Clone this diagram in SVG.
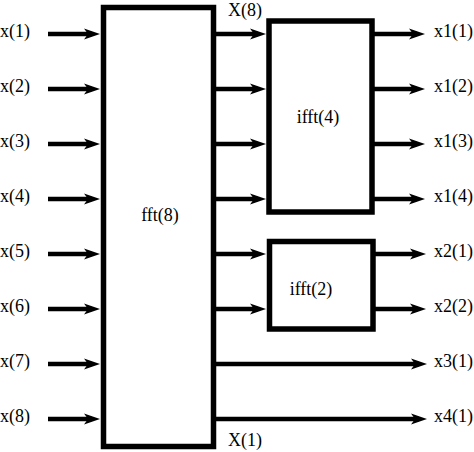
<svg xmlns="http://www.w3.org/2000/svg" width="474" height="452" viewBox="0 0 474 452">
<style>
.box{fill:#fff;stroke:#000;stroke-width:5.5}
.ln{stroke:#000;stroke-width:4.5;fill:none;marker-end:url(#ah)}
text{font-family:"Liberation Serif","DejaVu Serif",serif;font-size:18px;fill:#000}
.c{text-anchor:middle}
</style>
<defs>
<marker id="ah" markerUnits="userSpaceOnUse" markerWidth="20" markerHeight="14" viewBox="-18 -7 20 14" refX="-8" refY="0" orient="auto">
<path d="M0,0 L-16,-5.5 L-12,0 L-16,5.5 Z" fill="#000"/>
</marker>
</defs>
<g id="connectors">
<line class="ln" x1="48" y1="34" x2="92" y2="34"/>
<line class="ln" x1="48" y1="89" x2="92" y2="89"/>
<line class="ln" x1="48" y1="144" x2="92" y2="144"/>
<line class="ln" x1="48" y1="199" x2="92" y2="199"/>
<line class="ln" x1="48" y1="254" x2="92" y2="254"/>
<line class="ln" x1="48" y1="309" x2="92" y2="309"/>
<line class="ln" x1="48" y1="364" x2="92" y2="364"/>
<line class="ln" x1="48" y1="419" x2="92" y2="419"/>
<line class="ln" x1="214" y1="34" x2="258" y2="34"/>
<line class="ln" x1="214" y1="89" x2="258" y2="89"/>
<line class="ln" x1="214" y1="144" x2="258" y2="144"/>
<line class="ln" x1="214" y1="199" x2="258" y2="199"/>
<line class="ln" x1="214" y1="254" x2="258" y2="254"/>
<line class="ln" x1="214" y1="309" x2="258" y2="309"/>
<line class="ln" x1="372" y1="34" x2="417" y2="34"/>
<line class="ln" x1="372" y1="89" x2="417" y2="89"/>
<line class="ln" x1="372" y1="144" x2="417" y2="144"/>
<line class="ln" x1="372" y1="199" x2="417" y2="199"/>
<line class="ln" x1="373" y1="254" x2="418" y2="254"/>
<line class="ln" x1="373" y1="309" x2="418" y2="309"/>
<line class="ln" x1="214" y1="364" x2="419" y2="364"/>
<line class="ln" x1="214" y1="419" x2="419" y2="419"/>
</g>
<g id="fft8">
<rect class="box" x="103.5" y="7.5" width="110" height="439"/>
<text class="c" x="160" y="221">fft(8)</text>
</g>
<g id="ifft4">
<rect class="box" x="269" y="21" width="103" height="191"/>
<text class="c" x="318" y="123">ifft(4)</text>
</g>
<g id="ifft2">
<rect class="box" x="269.5" y="241.5" width="103.5" height="87.5"/>
<text class="c" x="311" y="295">ifft(2)</text>
</g>
<g id="labels">
<text x="0" y="37">x(1)</text>
<text x="0" y="92">x(2)</text>
<text x="0" y="147">x(3)</text>
<text x="0" y="202">x(4)</text>
<text x="0" y="257">x(5)</text>
<text x="0" y="312">x(6)</text>
<text x="0" y="367">x(7)</text>
<text x="0" y="422">x(8)</text>
<text x="228" y="16">X(8)</text>
<text x="228" y="446">X(1)</text>
<text x="434" y="37">x1(1)</text>
<text x="434" y="92">x1(2)</text>
<text x="434" y="147">x1(3)</text>
<text x="434" y="202">x1(4)</text>
<text x="434" y="257">x2(1)</text>
<text x="434" y="312">x2(2)</text>
<text x="434" y="367">x3(1)</text>
<text x="434" y="422">x4(1)</text>
</g>
</svg>
